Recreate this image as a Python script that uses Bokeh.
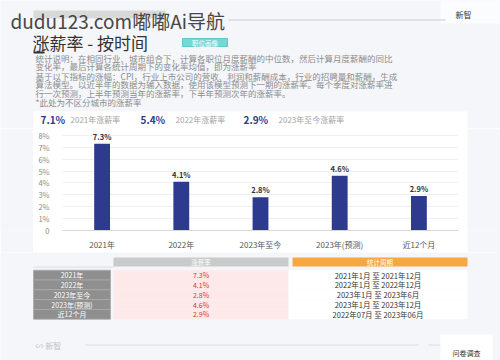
from bokeh.plotting import figure
from bokeh.layouts import column, row
from bokeh.models import Range1d, FactorRange, Label, FixedTicker
from bokeh.core.properties import value
from bokeh.embed import file_html
from bokeh.resources import INLINE

# ---------------- data ----------------
categories = ["2021年", "2022年", "2023年至今", "2023年(预测)", "近12个月"]
rates = [7.3, 4.1, 2.8, 4.6, 2.9]
rate_labels = ["7.3%", "4.1%", "2.8%", "4.6%", "2.9%"]
periods = ["2021年1月 至 2021年12月", "2022年1月 至 2022年12月",
           "2023年1月 至 2023年6月", "2023年1月 至 2023年12月",
           "2022年07月 至 2023年06月"]
summary_values = ["7.1%", "5.4%", "2.9%"]
summary_names = ["2021年涨薪率", "2022年涨薪率", "2023年至今涨薪率"]
y_ticks = [0, 1, 2, 3, 4, 5, 6, 7, 8]
y_tick_labels = ["0", "1%", "2%", "3%", "4%", "5%", "6%", "7%", "8%"]
table_headers = ["涨薪率", "统计周期"]
paragraph = [
    "统计说明：在相同行业、城市组合下，计算各职位月度薪酬的中位数，然后计算月度薪酬的同比",
    "变化率，最后计算各统计周期下的变化率均值，即为涨薪率",
    "基于以下指标的涨幅：CPI，行业上市公司的营收、利润和薪酬成本，行业的招聘量和薪酬，生成",
    "算法模型。以近半年的数据为输入数据，使用该模型预测下一期的涨薪率。每个季度对涨薪率进",
    "行一次预测，上半年预测当年的涨薪率，下半年预测次年的涨薪率。",
    "*此处为不区分城市的涨薪率",
]

FONT = "Noto Sans CJK SC"
BG = "#f4f6f9"
NAVY = "#2d3a8e"


def deco(width, height, x0, x1, y0, y1):
    p = figure(width=width, height=height, x_range=Range1d(x0, x1),
               y_range=Range1d(y1, y0), x_axis_location=None,
               y_axis_location=None, toolbar_location=None,
               output_backend="svg", min_border=0,
               background_fill_color=BG, border_fill_color=BG,
               outline_line_color=None)
    p.xgrid.visible = False
    p.ygrid.visible = False
    return p


def lab(p, x, y, text, size, color, bold=False, align="left"):
    p.add_layout(Label(x=x, y=y, text=text, text_font=FONT,
                       text_font_size=f"{size}px", text_color=color,
                       text_font_style="bold" if bold else "normal",
                       text_align=align, text_baseline="middle"))


# ---------------- header ----------------
pa = deco(500, 128, 0, 500, 0, 128)
pa.quad(left=440, right=500, top=0, bottom=23, fill_color="#fbfcfd", line_color=None)
pa.quad(left=33, right=165, top=10, bottom=18, fill_color="#d9d9d9", line_color=None)
lab(pa, 10, 20, "dudu123.com嘟嘟Ai导航", 19, "#474747")
pa.segment(x0=228, y0=19.5, x1=445, y1=19.5, line_color="#c9cdd2", line_width=1)
lab(pa, 455, 14, "新智", 8, "#333333")
lab(pa, 32, 42, "涨薪率 - 按时间", 17, "#333333")
pa.quad(left=33, right=44, top=51, bottom=53, fill_color="#333333", line_color=None)
pa.quad(left=182, right=227, top=38, bottom=46, fill_color="#79d6d6", line_color="#5ec9c9")
lab(pa, 204.5, 42, "职位画像", 6.5, "#ffffff", align="center")
para_y = [57, 65.5, 75, 83.5, 92, 101]
for yy, t in zip(para_y, paragraph):
    lab(pa, 35, yy, t, 8.5, "#8d8d8d")
pa.quad(left=33, right=467, top=111, bottom=128, fill_color="white", line_color=None)
val_x = [40, 140, 243]
name_x = [70, 175, 278]
for vx, nx, v, n in zip(val_x, name_x, summary_values, summary_names):
    lab(pa, vx, 119, v, 10, NAVY, bold=True)
    lab(pa, nx, 119, n, 8, "#a3a3a3")

# ---------------- chart ----------------
pb = figure(width=434, height=124, x_range=FactorRange(*categories),
            y_range=Range1d(0, 8.5), toolbar_location=None,
            output_backend="svg", min_border_left=29, min_border_right=9,
            min_border_top=1, min_border_bottom=13,
            background_fill_color="white", border_fill_color="white",
            outline_line_color=None)
pb.vbar(x=categories, top=rates, width=0.2, fill_color=NAVY, line_color=None)
pb.text(x=categories, y=rates, text=rate_labels, y_offset=-2,
        text_align="center", text_baseline="bottom",
        text_font=value(FONT), text_font_size="7.5px",
        text_font_style="bold", text_color="#333333")
pb.xgrid.visible = False
pb.ygrid.grid_line_color = "#efefef"
pb.yaxis.ticker = FixedTicker(ticks=y_ticks)
pb.yaxis.major_label_overrides = {t: l for t, l in zip(y_ticks, y_tick_labels)}
pb.yaxis.axis_line_color = None
pb.yaxis.major_tick_line_color = None
pb.yaxis.minor_tick_line_color = None
pb.yaxis.major_label_standoff = 7
pb.yaxis.major_label_text_font = FONT
pb.yaxis.major_label_text_font_size = "7.5px"
pb.yaxis.major_label_text_color = "#8a8a8a"
pb.xaxis.axis_line_color = "#d6d6d6"
pb.xaxis.major_tick_line_color = None
pb.xaxis.minor_tick_line_color = None
pb.xaxis.major_label_standoff = 2
pb.xaxis.major_label_text_font = FONT
pb.xaxis.major_label_text_font_size = "8px"
pb.xaxis.major_label_text_color = "#555555"

sp_l = deco(33, 124, 0, 1, 0, 1)
sp_r = deco(33, 124, 0, 1, 0, 1)
mid = row(sp_l, pb, sp_r, spacing=0)

# ---------------- table + footer ----------------
pc = deco(500, 108, 0, 500, 252, 360)
pc.quad(left=113, right=288, top=257, bottom=266, fill_color="#cacaca", line_color=None)
pc.quad(left=292, right=467, top=257, bottom=266, fill_color="#f6a742", line_color=None)
lab(pc, 200.5, 261.5, table_headers[0], 6.5, "#ffffff", align="center")
lab(pc, 379.5, 261.5, table_headers[1], 6.5, "#ffffff", align="center")
pc.segment(x0=33, y0=266.5, x1=113, y1=266.5, line_color="#dcdcdc")
row_h = 9.8
row_y = [274.6 + row_h * i for i in range(len(categories))]
pc.rect(x=71.5, y=row_y, width=77, height=row_h, fill_color="#8f8f8f",
        line_color="#a9a9a9", line_width=0.8)
pc.rect(x=200.5, y=row_y, width=175, height=row_h, fill_color="#fde9ea",
        line_color=None)
pc.rect(x=377.5, y=row_y, width=179, height=row_h, fill_color="white",
        line_color=None)
pc.text(x=71.5, y=row_y, text=categories, text_align="center",
        text_baseline="middle", text_font=value(FONT),
        text_font_size="7px", text_color="#ffffff")
pc.text(x=200.5, y=row_y, text=rate_labels, text_align="center",
        text_baseline="middle", text_font=value(FONT),
        text_font_size="7px", text_color="#d23a3f")
pc.text(x=377.5, y=row_y, text=periods, text_align="center",
        text_baseline="middle", text_font=value(FONT),
        text_font_size="7.5px", text_color="#333333")
lab(pc, 35, 345, "∽ 新智", 8, "#c2c2c2")
pc.segment(x0=85, y0=344.5, x1=418, y1=344.5, line_color="#d8dde3")
pc.segment(x0=428, y0=344.5, x1=440, y1=344.5, line_color="#d8dde3")
pc.quad(left=440, right=492, top=334, bottom=360, fill_color="white", line_color=None)
lab(pc, 466, 352, "问卷调查", 7, "#333333", align="center")

layout = column(pa, mid, pc, spacing=0)
open("out.html", "w").write(file_html(layout, INLINE))
